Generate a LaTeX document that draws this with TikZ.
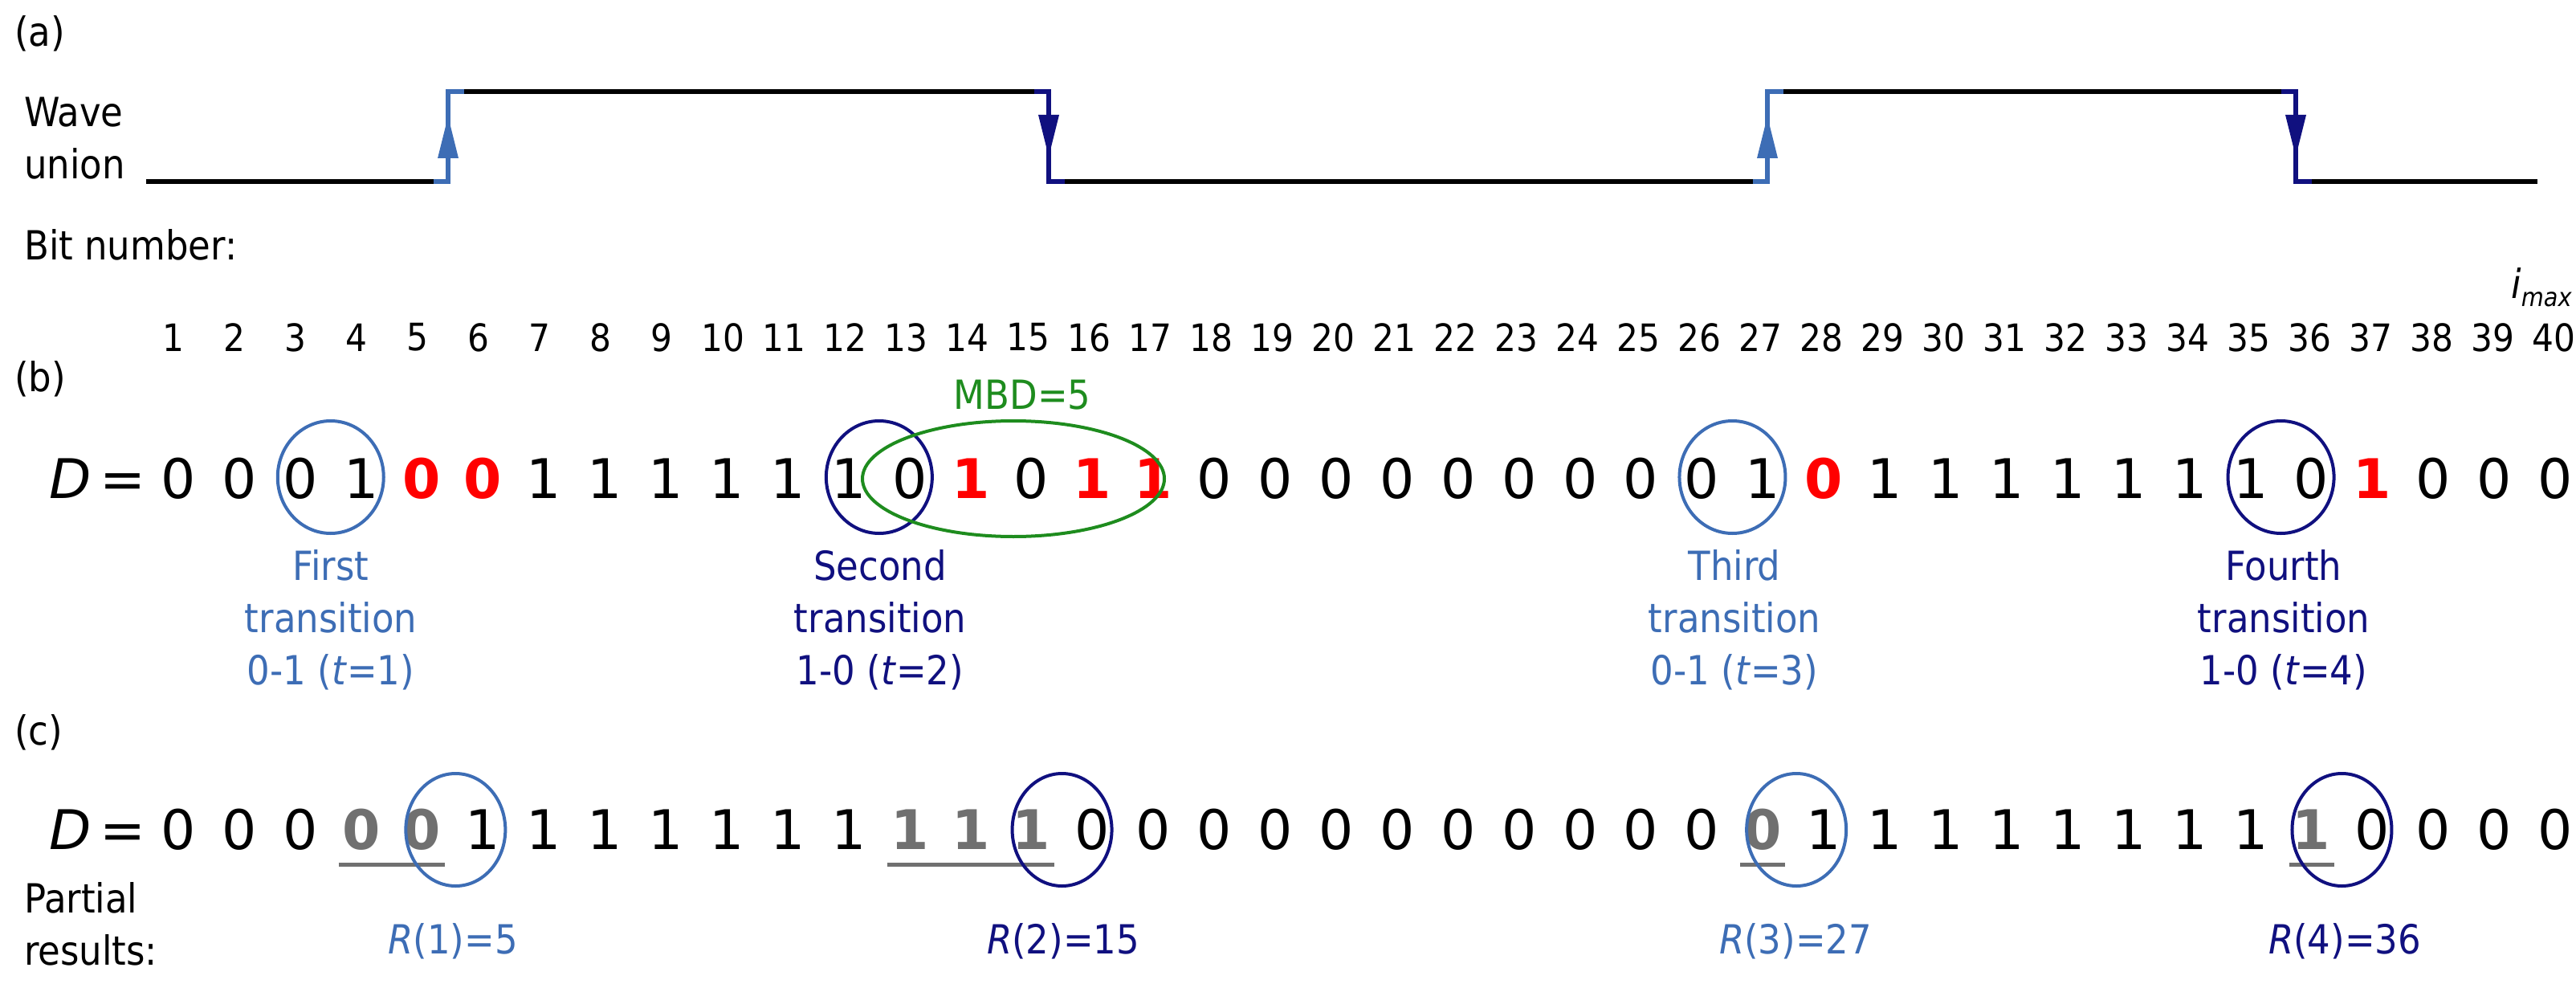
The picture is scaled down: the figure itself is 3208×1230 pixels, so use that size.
\documentclass[tikz,border=0pt]{standalone}
\usepackage{fontspec}
\setmainfont{DejaVu Sans}
\newfontfamily\cond{DejaVu Sans Condensed}
\usetikzlibrary{arrows.meta}
\definecolor{lb}{HTML}{3D6DB5}
\definecolor{nv}{HTML}{10107F}
\definecolor{gr}{HTML}{1E8C1E}
\definecolor{gy}{HTML}{707070}
\tikzset{
 lbl/.style={font=\cond\fontsize{50}{65}\selectfont,inner sep=0,align=center},
 bitn/.style={font=\cond\fontsize{47}{50}\selectfont,inner sep=0},
 dig/.style={font=\fontsize{68}{80}\selectfont,inner sep=0},
 red/.style={dig,text=red,font=\bfseries\fontsize{68}{80}\selectfont},
 grey/.style={dig,text=gy,font=\bfseries\fontsize{68}{80}\selectfont},
 blk/.style={dig},
 wv/.style={line width=6pt},
 edge/.style={line width=6pt},
}
\begin{document}
\begin{tikzpicture}[x=1pt,y=-1pt]
\useasboundingbox (0,0) rectangle (3208,1230);
% (a)
\node[lbl,anchor=west] (la) at (18,42) {(a)};
\node[lbl,anchor=west,align=left] (wave) at (30,172) {Wave\\union};
\coordinate (w0) at (182,226);
\draw[wv] (w0) -- (545,226);
\draw[wv] (572,114) -- (1292,114);
\draw[wv] (1320,226) -- (2188,226);
\draw[wv] (2215,114) -- (2846,114);
\draw[wv] (2873,226) -- (3160,226);
\foreach \x/\c in {558/lb, 2201/lb}{
 \draw[edge,\c] (\x-18,226) -- (\x,226) -- (\x,114) -- (\x+20,114);
 \fill[\c] (\x-13,197) -- (\x+13,197) -- (\x,145) -- cycle;
}
\foreach \x/\c in {1306/nv, 2859/nv}{
 \draw[edge,\c] (\x-18,114) -- (\x,114) -- (\x,226) -- (\x+20,226);
 \fill[\c] (\x-13,143) -- (\x+13,143) -- (\x,195) -- cycle;
}
\node[lbl,anchor=west] (bitnum) at (30,305) {Bit number:};
\foreach \i in {1,...,40}{
 \node[bitn] (n\i) at ({216+(\i-1)*76},420) {\i};
}
\node[font=\cond\fontsize{50}{50}\selectfont,inner sep=0] (imax) at (3165,358) {\textit{i}\raisebox{-0.35ex}{\fontsize{32}{32}\selectfont\itshape max}};
% (b)
\node[lbl,anchor=west] (lb) at (18,472) {(b)};
\node[dig,anchor=east] (Db) at (182,596) {\itshape D\upshape\,=};
\foreach \i/\d/\s in {1/0/blk,2/0/blk,3/0/blk,4/1/blk,5/0/red,6/0/red,7/1/blk,8/1/blk,9/1/blk,10/1/blk,11/1/blk,12/1/blk,13/0/blk,14/1/red,15/0/blk,16/1/red,17/1/red,18/0/blk,19/0/blk,20/0/blk,21/0/blk,22/0/blk,23/0/blk,24/0/blk,25/0/blk,26/0/blk,27/1/blk,28/0/red,29/1/blk,30/1/blk,31/1/blk,32/1/blk,33/1/blk,34/1/blk,35/1/blk,36/0/blk,37/1/red,38/0/blk,39/0/blk,40/0/blk}{
 \node[\s] (b\i) at ({222+(\i-1)*75.9},596) {\d};
}
\foreach \c/\col in {3.5/lb,12.5/nv,26.5/lb,35.5/nv}{
 \draw[\col,line width=4pt] ({222+(\c-1)*75.9},594) ellipse [x radius=66,y radius=70];
}
\draw[gr,line width=4pt] (1262,596) ellipse [x radius=188,y radius=72];
\node[lbl,text=gr] (mbd) at (1273,492) {MBD=5};
\node[lbl,text=lb] (t1) at ({222+2.5*76},772) {First\\transition\\0-1 (\textit{t}=1)};
\node[lbl,text=nv] (t2) at ({222+11.5*76},772) {Second\\transition\\1-0 (\textit{t}=2)};
\node[lbl,text=lb] (t3) at ({222+25.5*76},772) {Third\\transition\\0-1 (\textit{t}=3)};
\node[lbl,text=nv] (t4) at ({222+34.5*76},772) {Fourth\\transition\\1-0 (\textit{t}=4)};
% (c)
\node[lbl,anchor=west] (lc) at (18,912) {(c)};
\node[dig,anchor=east] (Dc) at (182,1033) {\itshape D\upshape\,=};
\foreach \i/\d/\s in {1/0/blk,2/0/blk,3/0/blk,4/0/grey,5/0/grey,6/1/blk,7/1/blk,8/1/blk,9/1/blk,10/1/blk,11/1/blk,12/1/blk,13/1/grey,14/1/grey,15/1/grey,16/0/blk,17/0/blk,18/0/blk,19/0/blk,20/0/blk,21/0/blk,22/0/blk,23/0/blk,24/0/blk,25/0/blk,26/0/blk,27/0/grey,28/1/blk,29/1/blk,30/1/blk,31/1/blk,32/1/blk,33/1/blk,34/1/blk,35/1/blk,36/1/grey,37/0/blk,38/0/blk,39/0/blk,40/0/blk}{
 \node[\s] (c\i) at ({222+(\i-1)*75.9},1033) {\d};
}
\foreach \a/\b in {4/5,13/15,27/27,36/36}{
 \draw[gy,line width=5pt] ({222+(\a-1)*75.9-28},1076) -- ({222+(\b-1)*75.9+28},1076);
}
\foreach \c/\col in {5.55/lb,15.5/nv,27.55/lb,36.5/nv}{
 \draw[\col,line width=4pt] ({222+(\c-1)*75.9},1033) ellipse [x radius=62,y radius=70];
}
\node[lbl,anchor=west,align=left] (pr) at (30,1150) {Partial\\results:};
\node[lbl,text=lb] (r1) at ({222+4.5*76},1172) {\textit{R}(1)=5};
\node[lbl,text=nv] (r2) at ({222+14.5*76},1172) {\textit{R}(2)=15};
\node[lbl,text=lb] (r3) at ({222+26.5*76},1172) {\textit{R}(3)=27};
\node[lbl,text=nv] (r4) at ({222+35.5*76},1172) {\textit{R}(4)=36};
\end{tikzpicture}
\end{document}
